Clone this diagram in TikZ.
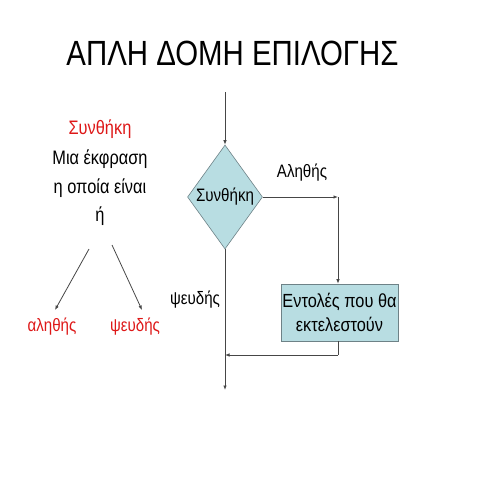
\documentclass[tikz,border=0pt]{standalone}
\usepackage{fontspec}
\usepackage{graphicx}
\setmainfont{Liberation Sans}
\usetikzlibrary{shapes.geometric,arrows.meta}
\definecolor{boxfill}{RGB}{184,221,226}
\definecolor{boxline}{RGB}{110,130,135}
\definecolor{linec}{RGB}{70,70,70}
\definecolor{txtred}{RGB}{222,24,24}
\newcommand\nq[1]{\scalebox{0.84}[1]{#1}}
\newcommand\nqb[1]{\scalebox{0.86}[1]{#1}}
\tikzset{
  lbl/.style={inner sep=0pt,anchor=base,font=\fontsize{18}{22}\selectfont},
  biglbl/.style={lbl,font=\fontsize{19.5}{22}\selectfont},
  redlbl/.style={lbl,text=txtred},
  conn/.style={draw=linec,line width=0.8pt,-{Latex[length=4.5pt,width=3.5pt]}},
  plain/.style={draw=linec,line width=0.8pt},
  decision/.style={diamond,draw=boxline,fill=boxfill,line width=0.6pt,inner sep=0pt,
    minimum width=75pt,minimum height=104pt,aspect=0.7,font=\fontsize{18}{22}\selectfont},
  action/.style={rectangle,draw=boxline,fill=boxfill,line width=0.6pt,inner sep=0pt,
    minimum width=117pt,minimum height=57pt,align=center,font=\fontsize{19}{24}\selectfont}
}
\begin{document}
\begin{tikzpicture}[x=1pt,y=-1pt]
\useasboundingbox (0,0) rectangle (480,480);
\fill[white] (0,0) rectangle (480,480);
% title
\node[inner sep=0pt,anchor=base,font=\fontsize{35}{40}\selectfont] (title) at (232.5,65) {\nq{ΑΠΛΗ ΔΟΜΗ ΕΠΙΛΟΓΗΣ}};
% left explanation
\node[biglbl,text=txtred] (c1) at (100,134) {\nq{Συνθήκη}};
\node[biglbl] (c2) at (100,164) {\nq{Μια έκφραση}};
\node[biglbl] (c3) at (100,193) {\nq{η οποία είναι}};
\node[biglbl] (c4) at (100,221) {\nq{ή}};
\node[redlbl] (tl) at (52,331) {\nq{αληθής}};
\node[redlbl] (fl) at (135,331) {\nq{ψευδής}};
\coordinate (s1) at (89,249);
\coordinate (e1) at (55,310);
\coordinate (s2) at (112,245);
\coordinate (e2) at (142,310);
\draw[conn] (s1) -- (e1);
\draw[conn] (s2) -- (e2);
% flowchart
\coordinate (top) at (225,92);
\node[decision] (cond) at (225,197) {\nq{Συνθήκη}};
\coordinate (corner) at (338,197);
\node[action] (act) at (339.5,312.5) {\nqb{Εντολές που θα}\\\nqb{εκτελεστούν}};
\coordinate (back) at (338,355);
\coordinate (join) at (225,355);
\coordinate (bot) at (225,390);
\draw[conn] (top) -- (cond.north);
\draw[conn] (cond.east) -- (corner);
\draw[conn] (corner) -- (act.north -| corner);
\draw[plain] (act.south -| back) -- (back);
\draw[conn] (back) -- (join);
\draw[conn] (cond.south) -- (bot);
\node[lbl] (yes) at (302,177) {\nq{Αληθής}};
\node[lbl] (no) at (195,304) {\nq{ψευδής}};
\end{tikzpicture}
\end{document}
